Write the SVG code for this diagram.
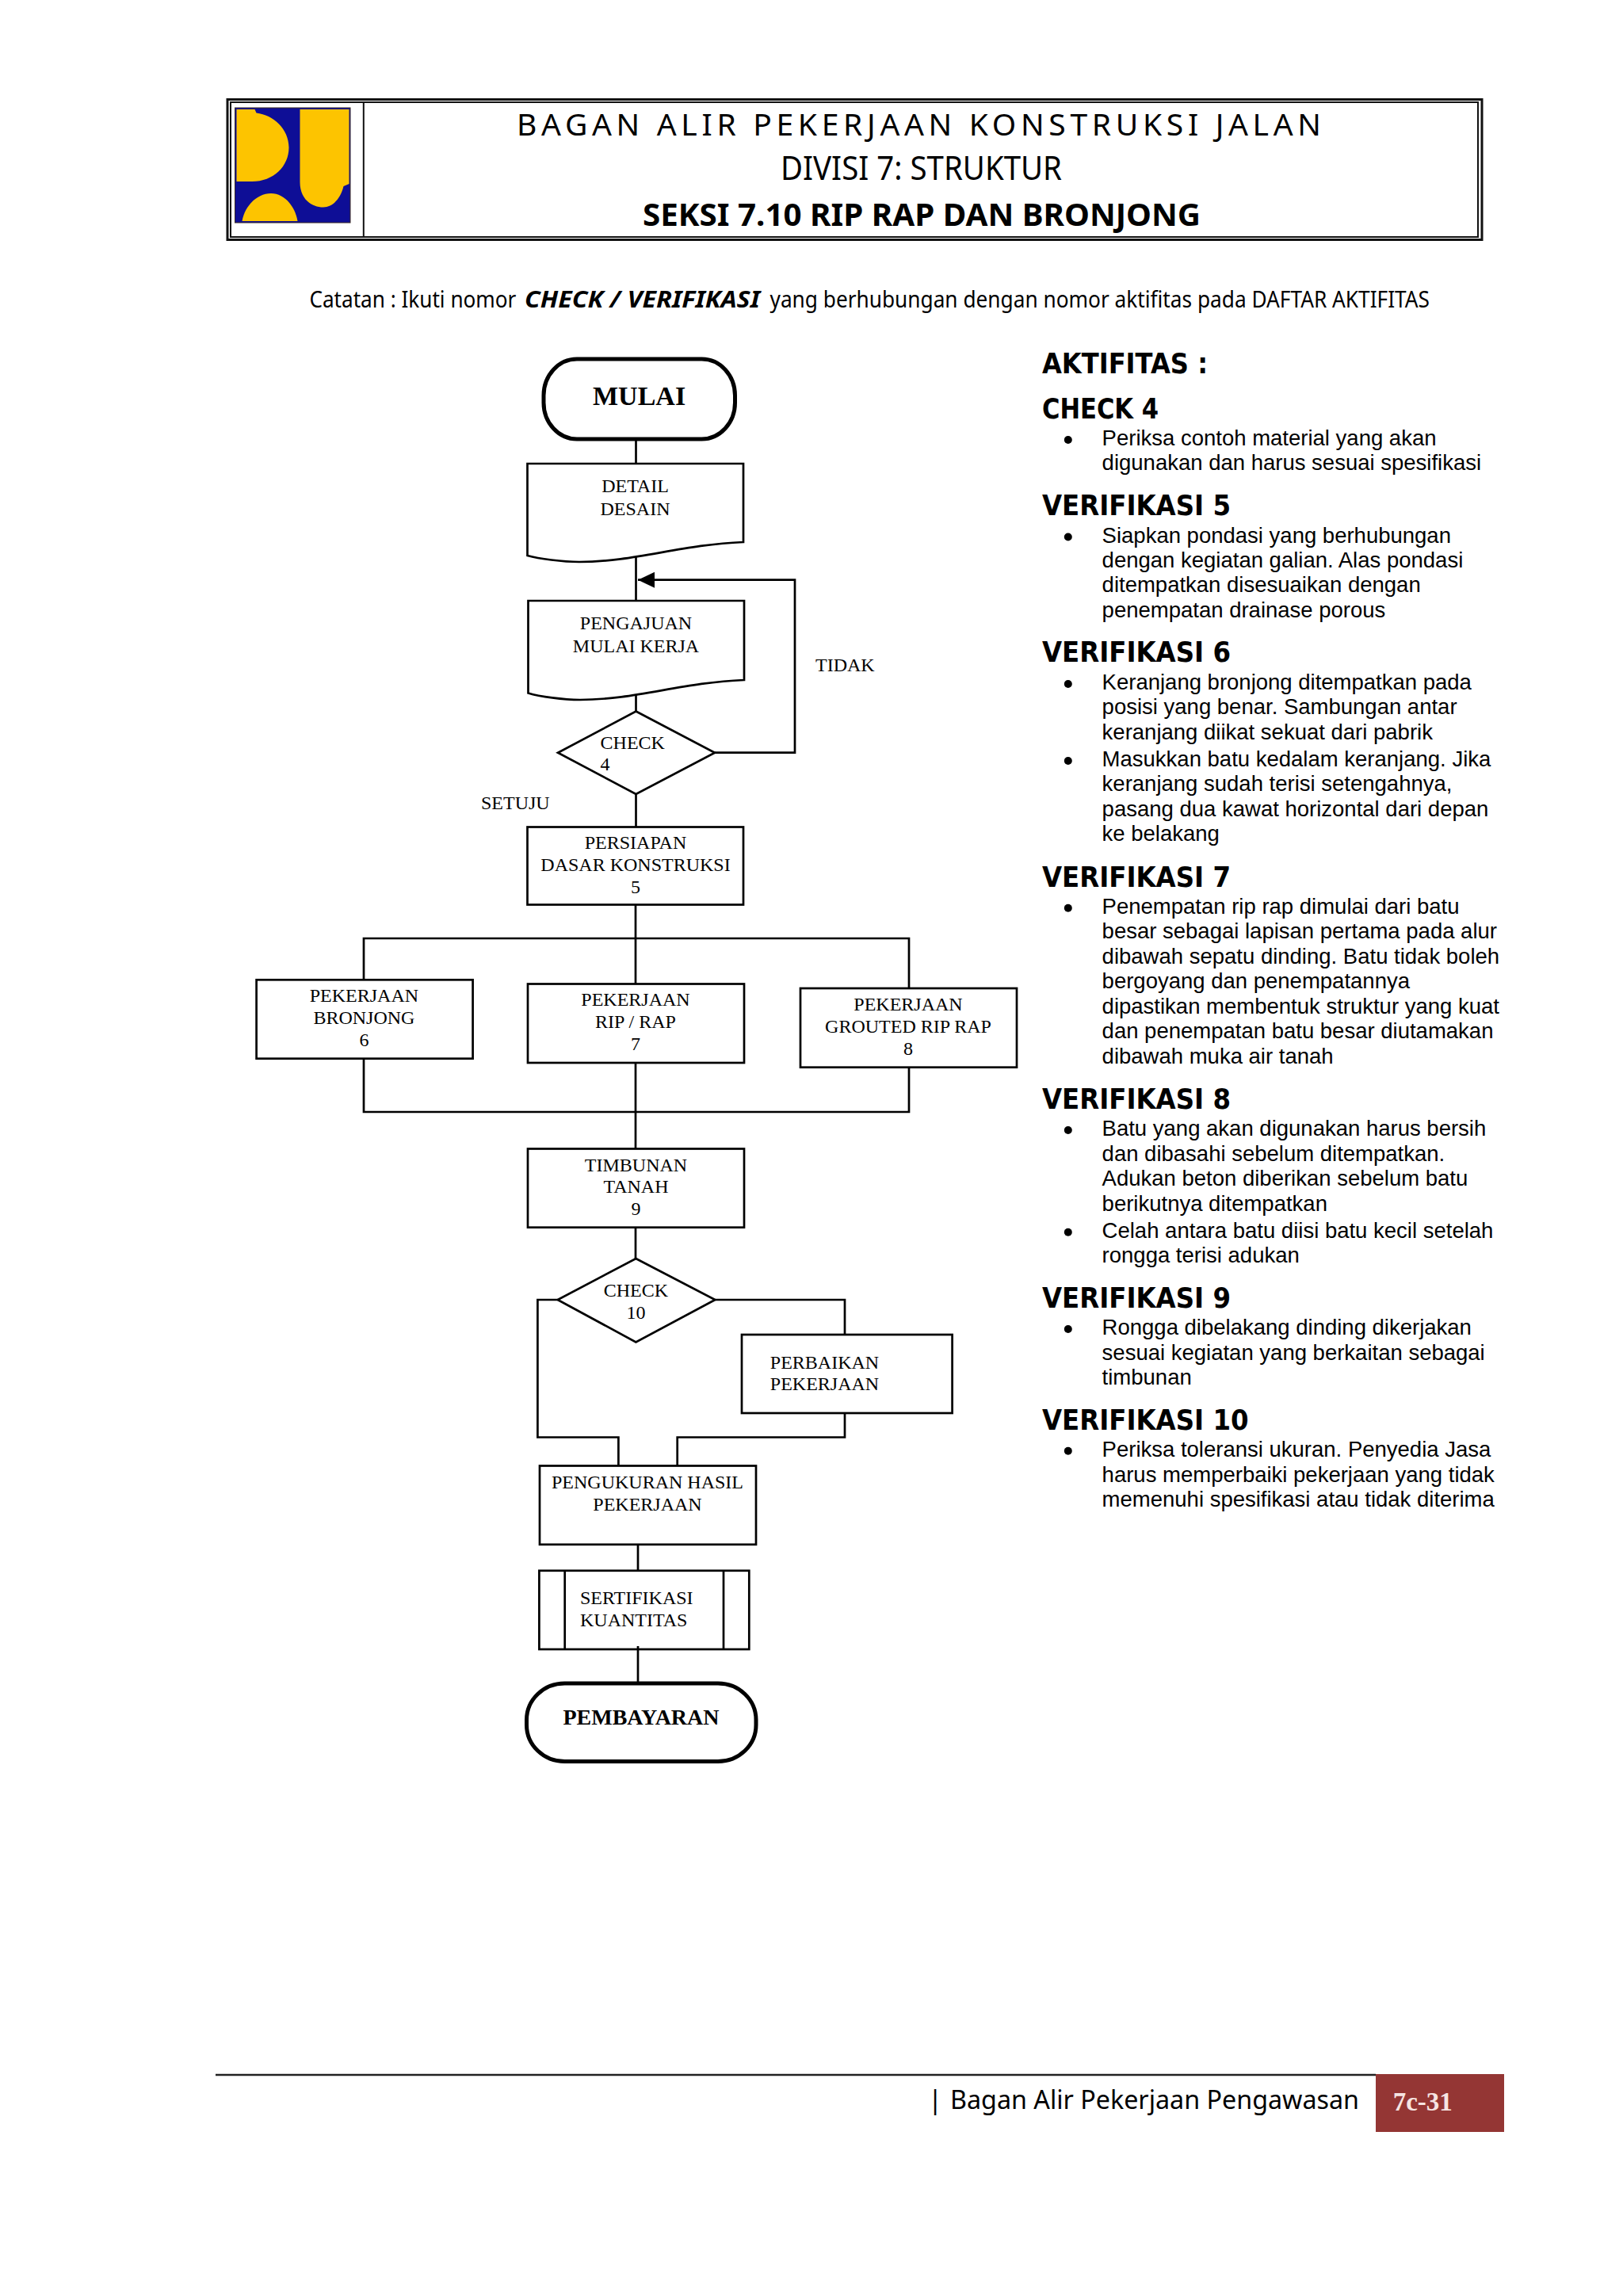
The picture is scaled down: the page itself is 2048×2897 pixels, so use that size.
<svg xmlns="http://www.w3.org/2000/svg" width="2048" height="2897" viewBox="0 0 2048 2897">
<style>
.s{fill:#fff;stroke:#000;stroke-width:2.700}
.t{fill:#fff;stroke:#000;stroke-width:5}
.c{fill:none;stroke:#000;stroke-width:2.700}
text{fill:#000}
.f{font-family:"Liberation Serif","Times New Roman",serif;font-size:24px}
.m{text-anchor:middle}
.b{font-family:"Liberation Sans",Arial,sans-serif;font-size:27.500px}
.h{font-family:"DejaVu Sans",Verdana,sans-serif;font-size:35px;font-weight:700}
.n{font-family:"Noto Sans","Open Sans",sans-serif}
.d{fill:#000}
</style>
<defs>
<marker id="arrow" markerUnits="userSpaceOnUse" markerWidth="22" markerHeight="22" refX="21" refY="10" orient="auto" viewBox="0 0 22 20"><path d="M0 0L21 10L0 20Z" fill="#000"/></marker>
</defs>
<rect width="2048" height="2897" fill="#fff"/>

<g id="header">
<rect x="287" y="125.500" width="1583" height="177" fill="none" stroke="#111" stroke-width="3"/>
<rect x="291" y="129" width="1574" height="170" fill="none" stroke="#111" stroke-width="2"/>
<line x1="458.800" y1="129" x2="458.800" y2="299" stroke="#111" stroke-width="2"/>
<g id="logo">
<rect x="296.500" y="136" width="145.500" height="145" fill="#0e0e96" stroke="#3a2a20" stroke-width="1"/>
<path d="M298.500 138H321.500L323.500 142.500C345 145 364.500 163 364.500 186C364.500 210 345 229 318 229H298.500Z" fill="#fdc400"/>
<path d="M378.500 138H440.500V232L433.500 235C430 250 420 261.500 408 261.500C392 261.500 378.500 250 378.500 230Z" fill="#fdc400"/>
<path d="M305.500 279C309 259 325 244 342 244C358 244 372 259 375.500 279Z" fill="#fdc400"/>
</g>
<text class="n" x="652" y="171" font-size="39" textLength="1015" lengthAdjust="spacing">BAGAN ALIR PEKERJAAN KONSTRUKSI JALAN</text>
<text class="n" x="985" y="227" font-size="41" textLength="355" lengthAdjust="spacingAndGlyphs">DIVISI 7: STRUKTUR</text>
<text class="n" x="811" y="285" font-size="40" font-weight="700" textLength="704" lengthAdjust="spacingAndGlyphs">SEKSI 7.10 RIP RAP DAN BRONJONG</text>
</g>

<g id="note">
<text class="n" x="390.400" y="387.700" font-size="29" textLength="261" lengthAdjust="spacingAndGlyphs">Catatan : Ikuti nomor</text>
<text class="n" x="662" y="387.700" font-size="29" font-weight="700" font-style="italic" textLength="297" lengthAdjust="spacingAndGlyphs">CHECK / VERIFIKASI</text>
<text class="n" x="971.500" y="387.700" font-size="29" textLength="832.500" lengthAdjust="spacingAndGlyphs">yang berhubungan dengan nomor aktifitas pada DAFTAR AKTIFITAS</text>
</g>

<g id="mulai"><rect class="t" x="686" y="453" width="241.500" height="101" rx="42" ry="46"/><text class="f m" x="806.600" y="511" style="font-size:34px" font-weight="700">MULAI</text></g>
<g id="detail-desain"><path class="s" d="M665.500 585H938V684C860 687 800 709 731 709C710 709 680 705 665.500 701Z"/><text class="f m" x="801.500" y="621">DETAIL</text><text class="f m" x="801.500" y="649.500">DESAIN</text></g>
<g id="pengajuan"><path class="s" d="M666.500 758H939V858C861 861 801 883 732 883C711 883 681 879 666.500 874.500Z"/><text class="f m" x="802.500" y="794">PENGAJUAN</text><text class="f m" x="802.500" y="822.500">MULAI KERJA</text></g>
<g id="check-4"><path class="s" d="M802.500 897.500L902 949.700L802.500 1002L704 949.700Z"/><text class="f" x="757.600" y="945">CHECK</text><text class="f" x="757.600" y="972">4</text></g>
<g id="persiapan"><rect class="s" x="665.500" y="1043.500" width="272.500" height="98"/><text class="f m" x="802" y="1071">PERSIAPAN</text><text class="f m" x="802" y="1099">DASAR KONSTRUKSI</text><text class="f m" x="802" y="1127">5</text></g>
<g id="bronjong"><rect class="s" x="323.600" y="1236.300" width="273" height="99.400"/><text class="f m" x="459.400" y="1264">PEKERJAAN</text><text class="f m" x="459.400" y="1291.500">BRONJONG</text><text class="f m" x="459.400" y="1319.500">6</text></g>
<g id="rip-rap"><rect class="s" x="666" y="1241.500" width="273" height="99.500"/><text class="f m" x="802" y="1269">PEKERJAAN</text><text class="f m" x="802" y="1297">RIP / RAP</text><text class="f m" x="802" y="1325">7</text></g>
<g id="grouted"><rect class="s" x="1010" y="1247" width="273" height="99.700"/><text class="f m" x="1146" y="1275">PEKERJAAN</text><text class="f m" x="1146" y="1302.700">GROUTED RIP RAP</text><text class="f m" x="1146" y="1330.500">8</text></g>
<g id="timbunan"><rect class="s" x="666" y="1449.500" width="273" height="99.200"/><text class="f m" x="802.500" y="1478">TIMBUNAN</text><text class="f m" x="802.500" y="1505">TANAH</text><text class="f m" x="802.500" y="1533">9</text></g>
<g id="check-10"><path class="s" d="M802.400 1588L902.400 1640L802.400 1693.400L703.700 1640Z"/><text class="f m" x="802.400" y="1636">CHECK</text><text class="f m" x="802.400" y="1664">10</text></g>
<g id="perbaikan"><rect class="s" x="936" y="1684" width="265.600" height="99"/><text class="f" x="971.800" y="1726.500">PERBAIKAN</text><text class="f" x="971.800" y="1754">PEKERJAAN</text></g>
<g id="pengukuran"><rect class="s" x="681" y="1849.500" width="273" height="99.300"/><text class="f m" x="817" y="1878">PENGUKURAN HASIL</text><text class="f m" x="817" y="1906">PEKERJAAN</text></g>
<g id="sertifikasi"><rect class="s" x="680.400" y="1981.800" width="264.900" height="99.200"/><line class="c" x1="712.700" y1="1981.800" x2="712.700" y2="2081"/><line class="c" x1="913" y1="1981.800" x2="913" y2="2081"/><text class="f" x="732" y="2024">SERTIFIKASI</text><text class="f" x="732" y="2051.500">KUANTITAS</text></g>
<g id="pembayaran"><rect class="t" x="664.500" y="2124" width="289.500" height="98.500" rx="48" ry="46"/><text class="f m" x="809" y="2176" style="font-size:28px" font-weight="700">PEMBAYARAN</text></g>

<g id="connectors">
<path class="c" d="M802.500 554V585"/>
<path class="c" d="M802.500 703V758"/>
<path class="c" d="M802.500 877V897.500"/>
<path class="c" d="M802.500 1002V1043"/>
<path class="c" d="M902 949.700H1003V731.700H805" marker-end="url(#arrow)"/>
<path class="c" d="M802 1141.700V1241"/>
<path class="c" d="M459 1236.300V1184H1147V1247"/>
<path class="c" d="M459 1335.700V1403H1147V1346.700"/>
<path class="c" d="M802 1341V1449"/>
<path class="c" d="M802 1548.700V1588"/>
<path class="c" d="M703.700 1640H678.400V1813.500H780.400V1849"/>
<path class="c" d="M902.400 1640H1066V1683.600"/>
<path class="c" d="M1066 1783V1813.500H854.700V1849"/>
<path class="c" d="M805 1948.800V1981.800"/>
<path class="c" d="M805 2077V2123.800"/>
</g>

<g id="labels">
<text class="f" x="1029" y="847">TIDAK</text>
<text class="f" x="607" y="1021">SETUJU</text>
</g>

<g id="aktifitas">
<text class="h" x="1315" y="471" textLength="209" lengthAdjust="spacingAndGlyphs">AKTIFITAS :</text>
<text class="h" x="1315" y="528" textLength="147" lengthAdjust="spacingAndGlyphs">CHECK 4</text>
<circle class="d" cx="1347.800" cy="555" r="5"/>
<text class="b" x="1390.600" y="561.700">Periksa contoh material yang akan</text>
<text class="b" x="1390.600" y="593">digunakan dan harus sesuai spesifikasi</text>
<text class="h" x="1315" y="650" textLength="238" lengthAdjust="spacingAndGlyphs">VERIFIKASI 5</text>
<circle class="d" cx="1347.800" cy="677.500" r="5"/>
<text class="b" x="1390.600" y="684.500">Siapkan pondasi yang berhubungan</text>
<text class="b" x="1390.600" y="715.700">dengan kegiatan galian. Alas pondasi</text>
<text class="b" x="1390.600" y="747">ditempatkan disesuaikan dengan</text>
<text class="b" x="1390.600" y="778.700">penempatan drainase porous</text>
<text class="h" x="1315" y="835" textLength="238" lengthAdjust="spacingAndGlyphs">VERIFIKASI 6</text>
<circle class="d" cx="1347.800" cy="863" r="5"/>
<text class="b" x="1390.600" y="870">Keranjang bronjong ditempatkan pada</text>
<text class="b" x="1390.600" y="901.400">posisi yang benar. Sambungan antar</text>
<text class="b" x="1390.600" y="933">keranjang diikat sekuat dari pabrik</text>
<circle class="d" cx="1347.800" cy="960" r="5"/>
<text class="b" x="1390.600" y="967">Masukkan batu kedalam keranjang. Jika</text>
<text class="b" x="1390.600" y="998">keranjang sudah terisi setengahnya,</text>
<text class="b" x="1390.600" y="1030">pasang dua kawat horizontal dari depan</text>
<text class="b" x="1390.600" y="1061">ke belakang</text>
<text class="h" x="1315" y="1118.700" textLength="238" lengthAdjust="spacingAndGlyphs">VERIFIKASI 7</text>
<circle class="d" cx="1347.800" cy="1145.700" r="5"/>
<text class="b" x="1390.600" y="1152.700">Penempatan rip rap dimulai dari batu</text>
<text class="b" x="1390.600" y="1184">besar sebagai lapisan pertama pada alur</text>
<text class="b" x="1390.600" y="1215.700">dibawah sepatu dinding. Batu tidak boleh</text>
<text class="b" x="1390.600" y="1247">bergoyang dan penempatannya</text>
<text class="b" x="1390.600" y="1279">dipastikan membentuk struktur yang kuat</text>
<text class="b" x="1390.600" y="1310">dan penempatan batu besar diutamakan</text>
<text class="b" x="1390.600" y="1342">dibawah muka air tanah</text>
<text class="h" x="1315" y="1399" textLength="238" lengthAdjust="spacingAndGlyphs">VERIFIKASI 8</text>
<circle class="d" cx="1347.800" cy="1426" r="5"/>
<text class="b" x="1390.600" y="1432.700">Batu yang akan digunakan harus bersih</text>
<text class="b" x="1390.600" y="1464.700">dan dibasahi sebelum ditempatkan.</text>
<text class="b" x="1390.600" y="1496">Adukan beton diberikan sebelum batu</text>
<text class="b" x="1390.600" y="1528">berikutnya ditempatkan</text>
<circle class="d" cx="1347.800" cy="1554.700" r="5"/>
<text class="b" x="1390.600" y="1561.700">Celah antara batu diisi batu kecil setelah</text>
<text class="b" x="1390.600" y="1593">rongga terisi adukan</text>
<text class="h" x="1315" y="1650.300" textLength="238" lengthAdjust="spacingAndGlyphs">VERIFIKASI 9</text>
<circle class="d" cx="1347.800" cy="1677" r="5"/>
<text class="b" x="1390.600" y="1684.300">Rongga dibelakang dinding dikerjakan</text>
<text class="b" x="1390.600" y="1716">sesuai kegiatan yang berkaitan sebagai</text>
<text class="b" x="1390.600" y="1747">timbunan</text>
<text class="h" x="1315" y="1804" textLength="260.500" lengthAdjust="spacingAndGlyphs">VERIFIKASI 10</text>
<circle class="d" cx="1347.800" cy="1830.700" r="5"/>
<text class="b" x="1390.600" y="1838">Periksa toleransi ukuran. Penyedia Jasa</text>
<text class="b" x="1390.600" y="1869.700">harus memperbaiki pekerjaan yang tidak</text>
<text class="b" x="1390.600" y="1901">memenuhi spesifikasi atau tidak diterima</text>
</g>

<g id="footer">
<line x1="272" y1="2618" x2="1736" y2="2618" stroke="#222" stroke-width="2.500"/>
<rect x="1736" y="2617" width="162" height="73" fill="#943634"/>
<text class="n" x="1171" y="2661" font-size="33">|</text>
<text class="n" x="1199" y="2661" font-size="33" textLength="516" lengthAdjust="spacingAndGlyphs">Bagan Alir Pekerjaan Pengawasan</text>
<text x="1757.700" y="2663" font-family="Liberation Serif,serif" font-size="33" font-weight="700" style="fill:#f6e4e2">7c-31</text>
</g>
</svg>
